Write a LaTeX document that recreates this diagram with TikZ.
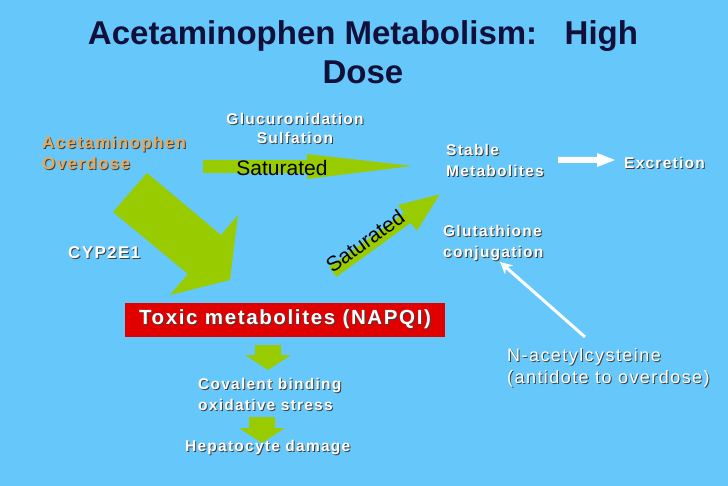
\documentclass[tikz,border=0pt]{standalone}
\usepackage{fontspec}
\usetikzlibrary{arrows.meta}
\setmainfont{Liberation Sans}
\newfontfamily\lbl[LetterSpace=8]{Liberation Sans}
\definecolor{bg}{HTML}{66C8FA}
\definecolor{grn}{HTML}{99CC00}
\definecolor{redbox}{HTML}{E00000}
\definecolor{org}{HTML}{E8A85A}
\definecolor{ttl}{HTML}{10103A}
\newcommand\sh[1]{\makebox[0pt][l]{\hspace{1pt}\raisebox{-1pt}{\color{black!75}#1}}#1}
\tikzset{
  lab/.style={font=\lbl\bfseries\fontsize{15.5}{21}\selectfont, text=white, align=left, anchor=west, inner sep=0},
  sat/.style={font=\fontsize{21}{22}\selectfont, text=black, inner sep=0},
}
\begin{document}
\begin{tikzpicture}[x=1pt,y=-1pt]
\fill[bg] (0,0) rectangle (728,486);
\useasboundingbox (0,0) rectangle (728,486);
% title
\node[font=\bfseries\fontsize{33}{39}\selectfont, text=ttl, align=center] (title) at (363,52) {Acetaminophen Metabolism:\ \ \ High\\Dose};
% green arrows
\fill[grn] (203,160)--(307,160)--(307,154)--(412,166)--(307,179)--(307,173)--(203,173)--cycle;
\fill[grn] (147,173)--(221,235)--(238,215)--(230,280)--(170,295)--(188,274)--(113,212)--cycle;
\begin{scope}[shift={(333,272)},rotate=36]
\fill[grn] (0,-6)--(92,-6)--(92,-16)--(132,0)--(92,16)--(92,6)--(0,6)--cycle;
\end{scope}
\fill[grn] (255,345)--(281,345)--(281,355)--(291,355)--(268,370)--(245,355)--(255,355)--cycle;
\fill[grn] (249,417)--(275,417)--(275,428)--(285,428)--(262,443)--(239,428)--(249,428)--cycle;
% white arrows
\fill[white] (558,157)--(597,157)--(597,153)--(615,160)--(597,167)--(597,163)--(558,163)--cycle;
% nodes
\node[lab, text=org, font=\lbl\bfseries\fontsize{17}{21}\selectfont] (od) at (42,153) {\sh{Acetaminophen}\\\sh{Overdose}};
\node[lab, anchor=center, align=center, font=\lbl\bfseries\fontsize{15.5}{19}\selectfont] (glu) at (295,129) {\sh{Glucuronidation}\\\sh{Sulfation}};
\node[sat] (s1) at (282,168) {Saturated};
\node[lab] (stab) at (446,161) {\sh{Stable}\\\sh{Metabolites}};
\node[lab] (exc) at (624,163) {\sh{Excretion}};
\node[lab, font=\lbl\bfseries\fontsize{17}{21}\selectfont] (cyp) at (68,253) {\sh{CYP2E1}};
\node[sat, rotate=36] (s2) at (365,241) {Saturated};
\node[lab] (glut) at (443,244) {\sh{Glutathione}\\\sh{conjugation}};
\node[fill=redbox, minimum width=320, minimum height=33, inner sep=0, text=white,
  font=\lbl\bfseries\fontsize{20.5}{22}\selectfont] (tox) at (285,320) {\sh{Toxic metabolites (NAPQI)}};
\node[lab] (cov) at (198,395) {\sh{Covalent binding}\\\sh{oxidative stress}};
\node[lab] (hep) at (185,448) {\sh{Hepatocyte damage}};
\node[lab, font=\lbl\fontsize{18}{22}\selectfont] (nac) at (507,368) {\sh{N-acetylcysteine}\\\sh{(antidote to overdose)}};
\coordinate (nacend) at (585,337);
\coordinate (glutend) at (500,262);
\draw[white, line width=3, -{Stealth[length=12,width=12]}] (nacend) -- (glutend);
\end{tikzpicture}
\end{document}
